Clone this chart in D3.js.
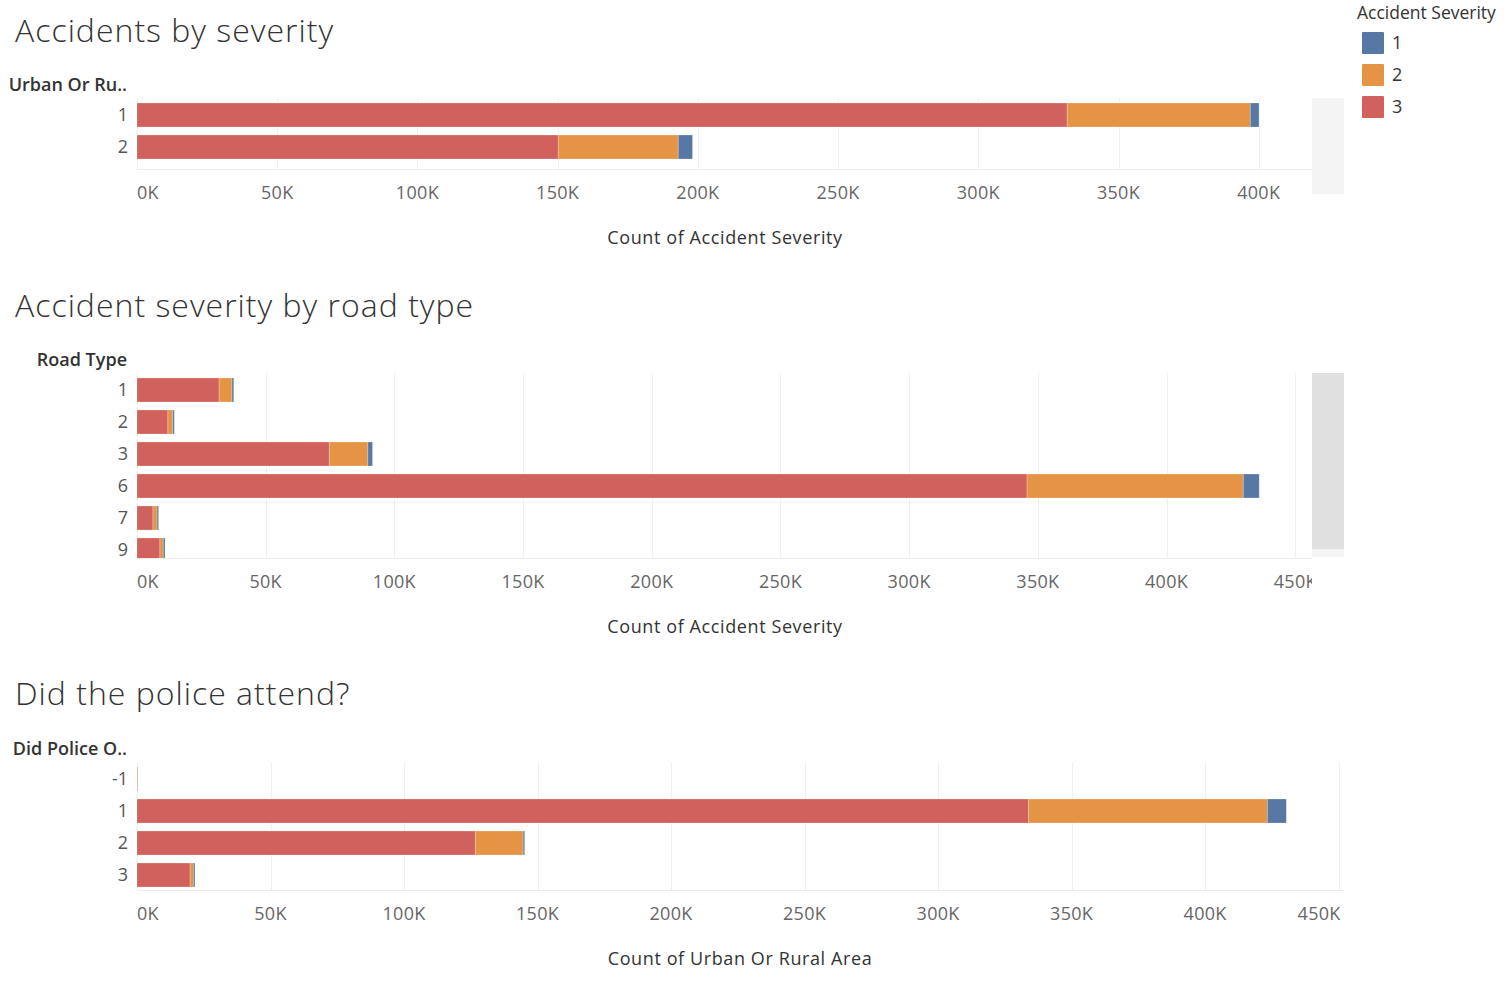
<!DOCTYPE html>
<html>
<head>
<meta charset="utf-8">
<script src="https://cdn.jsdelivr.net/npm/d3@7"></script>
<style>
  body { margin: 0; background: #fff; font-family: "Open Sans", "Noto Sans", sans-serif; }
  svg { display: block; }
</style>
</head>
<body>
<div id="dash"></div>
<script>
// severity keys, stacked left to right 3 -> 2 -> 1
var severityKeys = ["3", "2", "1"];
var legendKeys = ["1", "2", "3"];
var severityColors = {"1": "#5778a4", "2": "#e49444", "3": "#d1615d"};

// Accidents by severity (urban / rural)
var urbanCats = ["1", "2"];
var urbanSev3 = [331700, 150200];
var urbanSev2 = [65300, 42800];
var urbanSev1 = [3100, 5100];

// Accident severity by road type
var roadCats = ["1", "2", "3", "6", "7", "9"];
var roadSev3 = [31900, 12000, 74700, 345800, 6200, 8900];
var roadSev2 = [5000, 1900, 15000, 84000, 1600, 1300];
var roadSev1 = [700, 600, 1800, 6200, 600, 700];

// Did the police attend?
var policeCats = ["-1", "1", "2", "3"];
var policeSev3 = [200, 333800, 126700, 19900];
var policeSev2 = [0, 89500, 17900, 1200];
var policeSev1 = [0, 7100, 600, 600];

var tickValues = [0, 50000, 100000, 150000, 200000, 250000, 300000, 350000, 400000, 450000];

var svg = d3.select("#dash")
  .append("svg")
  .attr("width", 1512)
  .attr("height", 992);

function buildRows(cats, s3, s2, s1) {
  return cats.map(function(c, i) {
    return {cat: c, "3": s3[i], "2": s2[i], "1": s1[i]};
  });
}

function drawPanel(opt) {
  var g = svg.append("g");
  var rows = buildRows(opt.cats, opt.s3, opt.s2, opt.s1);

  g.append("text")
    .attr("x", 15)
    .attr("y", opt.titleY)
    .attr("dy", "0.35em")
    .style("font-size", "32px")
    .style("font-weight", 300)
    .style("letter-spacing", "1px")
    .style("fill", "#333")
    .text(opt.title);

  g.append("text")
    .attr("x", 127)
    .attr("y", opt.headerY)
    .attr("dy", "0.35em")
    .attr("text-anchor", "end")
    .style("font-size", "18px")
    .style("font-weight", 600)
    .style("fill", "#333")
    .text(opt.header);

  var x = d3.scaleLinear()
    .domain([0, opt.max])
    .range([137, opt.right]);

  var y = d3.scaleBand()
    .domain(opt.cats)
    .range([opt.top + 1, opt.top + 1 + opt.cats.length * 32])
    .paddingInner(0.25)
    .paddingOuter(0.125);

  var ticks = tickValues.filter(function(t) { return t <= opt.max; });

  // gridlines
  g.selectAll(".grid")
    .data(ticks)
    .enter()
    .append("line")
    .attr("x1", function(d) { return Math.round(x(d)) + 0.5; })
    .attr("x2", function(d) { return Math.round(x(d)) + 0.5; })
    .attr("y1", opt.top)
    .attr("y2", opt.bottom)
    .style("stroke", "#f0f0f0");

  g.append("line")
    .attr("x1", 137)
    .attr("x2", opt.right)
    .attr("y1", opt.bottom + 0.5)
    .attr("y2", opt.bottom + 0.5)
    .style("stroke", "#ececec");

  var clipId = "clip" + opt.id;
  svg.append("clipPath")
    .attr("id", clipId)
    .append("rect")
    .attr("x", 0)
    .attr("y", opt.top)
    .attr("width", opt.right + 40)
    .attr("height", opt.bottom - opt.top);

  var stack = d3.stack().keys(severityKeys);
  var series = stack(rows);

  var bars = g.append("g").attr("clip-path", "url(#" + clipId + ")");

  bars.selectAll(".layer")
    .data(series)
    .enter()
    .append("g")
    .attr("class", "layer")
    .style("fill", function(d) { return severityColors[d.key]; })
    .selectAll("rect")
    .data(function(d) { return d; })
    .enter()
    .append("rect")
    .attr("x", function(d) { return x(d[0]); })
    .attr("y", function(d) { return y(d.data.cat); })
    .attr("width", function(d) { return Math.max(0, x(d[1]) - x(d[0])); })
    .attr("height", y.bandwidth())
    .style("stroke", "#fff")
    .style("stroke-opacity", 0.3)
    .style("stroke-width", 0.8);

  // row labels
  var rowLabels = g.append("g").attr("clip-path", "url(#" + clipId + ")");
  rowLabels.selectAll("text")
    .data(opt.cats)
    .enter()
    .append("text")
    .attr("x", 128)
    .attr("y", function(d) { return y(d) + y.bandwidth() / 2; })
    .attr("dy", "0.35em")
    .attr("text-anchor", "end")
    .style("font-size", "18px")
    .style("fill", "#555")
    .text(function(d) { return d; });

  // tick labels
  var tickClip = "tclip" + opt.id;
  svg.append("clipPath")
    .attr("id", tickClip)
    .append("rect")
    .attr("x", 0)
    .attr("y", opt.bottom)
    .attr("width", opt.right)
    .attr("height", 50);

  g.append("g")
    .attr("clip-path", "url(#" + tickClip + ")")
    .selectAll("text")
    .data(ticks)
    .enter()
    .append("text")
    .attr("x", function(d) { return d === 0 ? 137 : x(d); })
    .attr("y", opt.bottom + 24)
    .attr("dy", "0.35em")
    .attr("text-anchor", function(d, i) {
      if (d === 0) return "start";
      if (opt.lastEnd && i === ticks.length - 1) return "end";
      return "middle";
    })
    .attr("dx", function(d, i) {
      return opt.lastEnd && i === ticks.length - 1 ? 2 : 0;
    })
    .style("font-size", "18px")
    .style("letter-spacing", "0.3px")
    .style("fill", "#666")
    .text(function(d) { return d3.format("d")(d / 1000) + "K"; });

  g.append("text")
    .attr("x", opt.axisTitleX)
    .attr("y", opt.bottom + 69)
    .attr("dy", "0.35em")
    .attr("text-anchor", "middle")
    .style("font-size", "18px")
    .style("font-weight", 500)
    .style("letter-spacing", "0.6px")
    .style("fill", "#333")
    .text(opt.axisTitle);

  // scroll bar area
  if (opt.scroll) {
    opt.scroll.forEach(function(s) {
      g.append("rect")
        .attr("x", 1312)
        .attr("y", s[0])
        .attr("width", 32)
        .attr("height", s[1] - s[0])
        .style("fill", s[2]);
    });
  }
}

drawPanel({
  id: 1, title: "Accidents by severity", titleY: 31,
  header: "Urban Or Ru..", headerY: 85,
  cats: urbanCats, s3: urbanSev3, s2: urbanSev2, s1: urbanSev1,
  max: 419000, right: 1312, top: 98, bottom: 169,
  axisTitle: "Count of Accident Severity", axisTitleX: 725,
  scroll: [[98, 194, "#f4f4f4"]]
});

drawPanel({
  id: 2, title: "Accident severity by road type", titleY: 306,
  header: "Road Type", headerY: 360,
  cats: roadCats, s3: roadSev3, s2: roadSev2, s1: roadSev1,
  max: 456500, right: 1312, top: 373, bottom: 558,
  axisTitle: "Count of Accident Severity", axisTitleX: 725,
  scroll: [[373, 549, "#e0e0e0"], [549, 557, "#f4f4f4"]]
});

drawPanel({
  id: 3, title: "Did the police attend?", titleY: 694,
  header: "Did Police O..", headerY: 749,
  cats: policeCats, s3: policeSev3, s2: policeSev2, s1: policeSev1,
  max: 452000, right: 1344, top: 762, bottom: 890, lastEnd: true,
  axisTitle: "Count of Urban Or Rural Area", axisTitleX: 740
});

// legend
var legend = svg.append("g");
legend.append("text")
  .attr("x", 1357)
  .attr("y", 13)
  .attr("dy", "0.35em")
  .style("font-size", "17.5px")
  .style("font-weight", 500)
  .style("fill", "#333")
  .text("Accident Severity");

var item = legend.selectAll(".item")
  .data(legendKeys)
  .enter()
  .append("g")
  .attr("transform", function(d, i) { return "translate(1362," + (32 + i * 32) + ")"; });

item.append("rect")
  .attr("width", 22)
  .attr("height", 22)
  .attr("rx", 1)
  .style("fill", function(d) { return severityColors[d]; });

item.append("text")
  .attr("x", 30)
  .attr("y", 11)
  .attr("dy", "0.35em")
  .style("font-size", "18px")
  .style("fill", "#333")
  .text(function(d) { return d; });
</script>
</body>
</html>
